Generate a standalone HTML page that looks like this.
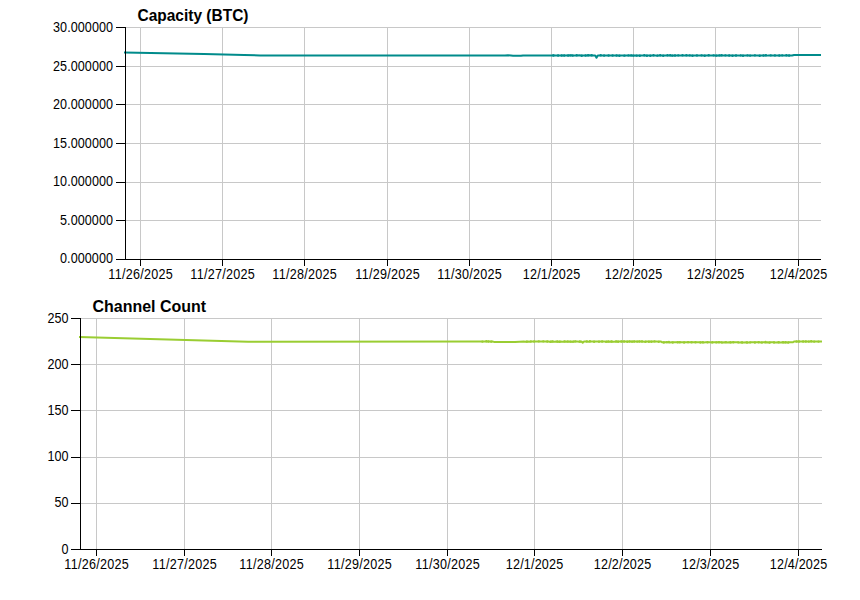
<!DOCTYPE html>
<html><head><meta charset="utf-8"><title>Chart</title>
<style>
html,body{margin:0;padding:0;background:#fff;}
body{width:860px;height:600px;overflow:hidden;position:relative;}
svg{position:absolute;left:0;top:0;display:block;}
.l{font-family:'Liberation Sans', Arial, sans-serif;font-size:14px;fill:#000;}
.t{font-family:'Liberation Sans', Arial, sans-serif;font-size:15.75px;font-weight:bold;fill:#000;}
</style></head><body>
<svg width="860" height="600" viewBox="0 0 860 600">
<rect x="0" y="0" width="860" height="600" fill="#fff"/>
<rect x="126" y="27" width="695" height="1" fill="#c8c8c8"/>
<rect x="126" y="66" width="695" height="1" fill="#c8c8c8"/>
<rect x="126" y="104" width="695" height="1" fill="#c8c8c8"/>
<rect x="126" y="143" width="695" height="1" fill="#c8c8c8"/>
<rect x="126" y="182" width="695" height="1" fill="#c8c8c8"/>
<rect x="126" y="220" width="695" height="1" fill="#c8c8c8"/>
<rect x="140" y="27" width="1" height="232" fill="#c8c8c8"/>
<rect x="222" y="27" width="1" height="232" fill="#c8c8c8"/>
<rect x="304" y="27" width="1" height="232" fill="#c8c8c8"/>
<rect x="387" y="27" width="1" height="232" fill="#c8c8c8"/>
<rect x="469" y="27" width="1" height="232" fill="#c8c8c8"/>
<rect x="551" y="27" width="1" height="232" fill="#c8c8c8"/>
<rect x="633" y="27" width="1" height="232" fill="#c8c8c8"/>
<rect x="715" y="27" width="1" height="232" fill="#c8c8c8"/>
<rect x="798" y="27" width="1" height="232" fill="#c8c8c8"/>
<polyline points="124,52.4 164,53.35 204,54.1 244,54.95 260,55.45 505,55.45 508,55.2 511,55.6 513,55.85 521,55.85 523,55.45 551,55.45 552,55.51 553.44,55.36 554.76,55.53 556.54,55.41 558.55,55.49 560.45,55.41 561.79,55.52 564.32,55.4 565.87,55.54 568.59,55.36 570.42,55.57 571.7,55.34 573.36,55.5 574.75,55.39 577.26,55.5 579.39,55.36 581.18,55.53 582.48,55.41 584.01,55.55 585.9,55.39 588.03,55.53 589.71,55.35 592.03,55.51 595.2,55.5 596.5,57.7 597.8,55.5 600,55.58 602.6,55.4 604.26,55.62 605.65,55.43 608.06,55.55 610.04,55.46 612.31,55.6 614.43,55.39 616.13,55.6 618.28,55.41 620.21,55.61 622.92,55.42 625.19,55.54 627.51,55.41 630.3,55.61 631.95,55.43 634.22,55.54 636.16,55.45 637.55,55.54 639.98,55.45 641.57,55.57 644.17,55.46 646.09,55.58 648.7,55.39 651.28,55.56 653.15,55.43 655.76,55.62 657.2,55.45 658.78,55.56 660.75,55.41 662.37,55.54 664.24,55.43 666.35,55.62 668.65,55.42 670.84,55.59 672.13,55.39 674.58,55.61 677.05,55.43 678.89,55.55 681.11,55.46 682.41,55.55 683.87,55.43 685.16,55.54 686.6,55.45 688.38,55.54 690.98,55.41 692.42,55.56 694.17,55.43 695.57,55.61 698.36,55.42 700.33,55.54 701.7,55.43 703.32,55.61 704.78,55.46 707.5,55.58 708.93,55.42 710.18,55.58 712.94,55.39 715.26,55.56 717.04,55.45 719.48,55.58 721.93,55.43 723.48,55.61 726.26,55.39 728.75,55.61 731.13,55.44 733.16,55.57 734.41,55.46 736.05,55.56 738.36,55.38 740.28,55.62 743.06,55.38 744.84,55.56 746.4,55.45 747.93,55.59 750.57,55.39 752.54,55.59 755.02,55.46 757.27,55.61 759.73,55.4 761.69,55.55 764.15,55.43 766.64,55.62 768.47,55.43 771.18,55.6 772.66,55.45 774.1,55.61 776.59,55.45 779.11,55.62 781.36,55.43 783.44,55.55 784.66,55.38 786.9,55.58 789.6,55.43 792,55.5 794,54.95 821,54.95" fill="none" stroke="#008b8b" stroke-width="2" stroke-linejoin="round"/>
<g fill="#008b8b"><circle cx="553.4" cy="55.48" r="1.2"/><circle cx="558.1" cy="55.43" r="1.2"/><circle cx="561.7" cy="55.49" r="1.2"/><circle cx="564.2" cy="55.46" r="1.2"/><circle cx="568.1" cy="55.6" r="1.2"/><circle cx="570.4" cy="55.35" r="1.2"/><circle cx="572.7" cy="55.6" r="1.2"/><circle cx="576.7" cy="55.22" r="1.2"/><circle cx="581.7" cy="55.68" r="1.2"/><circle cx="585.6" cy="55.51" r="1.2"/><circle cx="588.1" cy="55.21" r="1.2"/><circle cx="591.7" cy="55.23" r="1.2"/><circle cx="600.7" cy="55.27" r="1.2"/><circle cx="604.1" cy="55.47" r="1.2"/><circle cx="608.6" cy="55.51" r="1.2"/><circle cx="612.6" cy="55.5" r="1.2"/><circle cx="616.6" cy="55.48" r="1.2"/><circle cx="619.4" cy="55.75" r="1.2"/><circle cx="624.4" cy="55.67" r="1.2"/><circle cx="628.5" cy="55.41" r="1.2"/><circle cx="631.2" cy="55.39" r="1.2"/><circle cx="633.4" cy="55.63" r="1.2"/><circle cx="636.6" cy="55.67" r="1.2"/><circle cx="639.8" cy="55.73" r="1.2"/><circle cx="644.3" cy="55.25" r="1.2"/><circle cx="646.9" cy="55.71" r="1.2"/><circle cx="650.3" cy="55.74" r="1.2"/><circle cx="653.5" cy="55.29" r="1.2"/><circle cx="657.4" cy="55.64" r="1.2"/><circle cx="660.2" cy="55.29" r="1.2"/><circle cx="663.2" cy="55.73" r="1.2"/><circle cx="667.5" cy="55.31" r="1.2"/><circle cx="670.2" cy="55.3" r="1.2"/><circle cx="672.4" cy="55.65" r="1.2"/><circle cx="675.0" cy="55.53" r="1.2"/><circle cx="678.3" cy="55.35" r="1.2"/><circle cx="682.5" cy="55.32" r="1.2"/><circle cx="686.4" cy="55.31" r="1.2"/><circle cx="689.7" cy="55.36" r="1.2"/><circle cx="692.5" cy="55.74" r="1.2"/><circle cx="696.9" cy="55.4" r="1.2"/><circle cx="701.6" cy="55.36" r="1.2"/><circle cx="704.7" cy="55.68" r="1.2"/><circle cx="708.7" cy="55.3" r="1.2"/><circle cx="713.6" cy="55.36" r="1.2"/><circle cx="716.4" cy="55.64" r="1.2"/><circle cx="719.4" cy="55.4" r="1.2"/><circle cx="721.6" cy="55.3" r="1.2"/><circle cx="725.4" cy="55.37" r="1.2"/><circle cx="729.2" cy="55.44" r="1.2"/><circle cx="732.5" cy="55.73" r="1.2"/><circle cx="736.0" cy="55.54" r="1.2"/><circle cx="740.6" cy="55.34" r="1.2"/><circle cx="743.0" cy="55.7" r="1.2"/><circle cx="747.5" cy="55.37" r="1.2"/><circle cx="750.1" cy="55.62" r="1.2"/><circle cx="754.9" cy="55.35" r="1.2"/><circle cx="759.7" cy="55.69" r="1.2"/><circle cx="763.5" cy="55.46" r="1.2"/><circle cx="765.9" cy="55.27" r="1.2"/><circle cx="770.7" cy="55.37" r="1.2"/><circle cx="774.9" cy="55.38" r="1.2"/><circle cx="779.3" cy="55.55" r="1.2"/><circle cx="782.2" cy="55.34" r="1.2"/><circle cx="786.4" cy="55.28" r="1.2"/><circle cx="789.1" cy="55.53" r="1.2"/></g>
<rect x="125" y="27" width="1" height="233" fill="#000000"/>
<rect x="125" y="259" width="696" height="1" fill="#000000"/>
<rect x="116" y="27" width="9" height="1" fill="#000000"/>
<rect x="116" y="66" width="9" height="1" fill="#000000"/>
<rect x="116" y="104" width="9" height="1" fill="#000000"/>
<rect x="116" y="143" width="9" height="1" fill="#000000"/>
<rect x="116" y="182" width="9" height="1" fill="#000000"/>
<rect x="116" y="220" width="9" height="1" fill="#000000"/>
<rect x="116" y="259" width="9" height="1" fill="#000000"/>
<rect x="140" y="260" width="1" height="6" fill="#000000"/>
<rect x="222" y="260" width="1" height="6" fill="#000000"/>
<rect x="304" y="260" width="1" height="6" fill="#000000"/>
<rect x="387" y="260" width="1" height="6" fill="#000000"/>
<rect x="469" y="260" width="1" height="6" fill="#000000"/>
<rect x="551" y="260" width="1" height="6" fill="#000000"/>
<rect x="633" y="260" width="1" height="6" fill="#000000"/>
<rect x="715" y="260" width="1" height="6" fill="#000000"/>
<rect x="798" y="260" width="1" height="6" fill="#000000"/>
<text transform="translate(113,32) scale(0.9,1)" text-anchor="end" class="l" textLength="66.67" lengthAdjust="spacing">30.000000</text>
<text transform="translate(113,71) scale(0.9,1)" text-anchor="end" class="l" textLength="66.67" lengthAdjust="spacing">25.000000</text>
<text transform="translate(113,109) scale(0.9,1)" text-anchor="end" class="l" textLength="66.67" lengthAdjust="spacing">20.000000</text>
<text transform="translate(113,148) scale(0.9,1)" text-anchor="end" class="l" textLength="66.67" lengthAdjust="spacing">15.000000</text>
<text transform="translate(113,186) scale(0.9,1)" text-anchor="end" class="l" textLength="66.67" lengthAdjust="spacing">10.000000</text>
<text transform="translate(113,225) scale(0.9,1)" text-anchor="end" class="l" textLength="58.89" lengthAdjust="spacing">5.000000</text>
<text transform="translate(113,263) scale(0.9,1)" text-anchor="end" class="l" textLength="58.89" lengthAdjust="spacing">0.000000</text>
<text transform="translate(140.5,279) scale(0.9,1)" text-anchor="middle" class="l" textLength="71.56" lengthAdjust="spacing">11/26/2025</text>
<text transform="translate(222.5,279) scale(0.9,1)" text-anchor="middle" class="l" textLength="71.56" lengthAdjust="spacing">11/27/2025</text>
<text transform="translate(304.5,279) scale(0.9,1)" text-anchor="middle" class="l" textLength="71.56" lengthAdjust="spacing">11/28/2025</text>
<text transform="translate(387.5,279) scale(0.9,1)" text-anchor="middle" class="l" textLength="71.56" lengthAdjust="spacing">11/29/2025</text>
<text transform="translate(469.5,279) scale(0.9,1)" text-anchor="middle" class="l" textLength="71.56" lengthAdjust="spacing">11/30/2025</text>
<text transform="translate(551.5,279) scale(0.9,1)" text-anchor="middle" class="l" textLength="63.78" lengthAdjust="spacing">12/1/2025</text>
<text transform="translate(633.5,279) scale(0.9,1)" text-anchor="middle" class="l" textLength="63.78" lengthAdjust="spacing">12/2/2025</text>
<text transform="translate(715.5,279) scale(0.9,1)" text-anchor="middle" class="l" textLength="63.78" lengthAdjust="spacing">12/3/2025</text>
<text transform="translate(798.5,279) scale(0.9,1)" text-anchor="middle" class="l" textLength="63.78" lengthAdjust="spacing">12/4/2025</text>
<text x="137.5" y="21" class="t" textLength="111" lengthAdjust="spacingAndGlyphs">Capacity (BTC)</text>
<rect x="81" y="318" width="741" height="1" fill="#c8c8c8"/>
<rect x="81" y="364" width="741" height="1" fill="#c8c8c8"/>
<rect x="81" y="410" width="741" height="1" fill="#c8c8c8"/>
<rect x="81" y="457" width="741" height="1" fill="#c8c8c8"/>
<rect x="81" y="503" width="741" height="1" fill="#c8c8c8"/>
<rect x="96" y="318" width="1" height="231" fill="#c8c8c8"/>
<rect x="184" y="318" width="1" height="231" fill="#c8c8c8"/>
<rect x="271" y="318" width="1" height="231" fill="#c8c8c8"/>
<rect x="359" y="318" width="1" height="231" fill="#c8c8c8"/>
<rect x="447" y="318" width="1" height="231" fill="#c8c8c8"/>
<rect x="534" y="318" width="1" height="231" fill="#c8c8c8"/>
<rect x="622" y="318" width="1" height="231" fill="#c8c8c8"/>
<rect x="710" y="318" width="1" height="231" fill="#c8c8c8"/>
<rect x="798" y="318" width="1" height="231" fill="#c8c8c8"/>
<polyline points="79,336.95 248,341.7 480,341.6 481,341.59 482.54,341.45 484.21,341.55 486.34,341.45 488.22,341.54 490.87,341.44 493,341.6 494.5,342.1 505,341.9 515,341.95 524,341.6 525,341.64 527.65,341.48 530.32,341.63 532.37,341.47 533.6,341.62 535.09,341.51 537.57,341.6 539.53,341.45 541.62,341.61 543.65,341.47 546.1,341.6 548.2,341.49 549.84,341.65 551.85,341.47 554.27,341.66 556.18,341.46 558.19,341.63 560.49,341.47 562.55,341.63 565.25,341.45 567.86,341.67 569.47,341.47 572.18,341.66 573.6,341.5 575.51,341.59 577.09,341.51 579.36,341.65 581.5,341.55 582.7,342.7 584,341.55 585,341.6 587.35,341.46 588.77,341.66 591.52,341.49 594.25,341.62 596.23,341.43 598.76,341.6 600.65,341.47 602.39,341.6 604.1,341.45 605.33,341.63 607.24,341.51 608.97,341.64 610.99,341.51 613.76,341.65 616.52,341.5 618.14,341.59 620.59,341.49 622.0,341.62 624.65,341.44 626.27,341.6 628.94,341.46 631.26,341.59 632.55,341.45 634.43,341.59 637.13,341.46 639.62,341.59 642.19,341.51 644.77,341.63 646.51,341.47 649.19,341.61 650.6,341.47 652.18,341.6 653.64,341.51 655.16,341.61 656.85,341.45 658.51,341.63 660.0,341.48 661,341.6 662,342.3 663,342.36 664.22,342.2 666.31,342.35 668.27,342.18 669.64,342.41 671.53,342.22 674.06,342.37 676.07,342.2 678.85,342.37 681.38,342.2 683.59,342.37 685.35,342.26 686.76,342.34 689.14,342.24 690.61,342.34 693.15,342.19 695.42,342.36 697.01,342.24 698.95,342.35 700.86,342.24 703.6,342.42 705.67,342.24 708.42,342.36 710.19,342.26 712.0,342.38 714.0,342.25 716.01,342.34 717.63,342.26 719.47,342.34 720.71,342.24 722.28,342.39 724.33,342.2 726.58,342.4 729.19,342.23 730.91,342.42 732.35,342.2 734.58,342.34 737.11,342.19 739.32,342.4 741.82,342.25 743.86,342.38 746.39,342.19 748.91,342.39 751.54,342.2 753.85,342.36 755.1,342.25 756.88,342.35 759.42,342.22 761.62,342.39 763.91,342.22 765.11,342.41 767.51,342.22 769.57,342.39 770.87,342.2 772.48,342.34 774.1,342.2 775.63,342.4 778.39,342.22 780.2,342.38 782.5,342.2 784.69,342.39 786.01,342.25 787.62,342.4 789.3,342.21 790.52,342.34 793,342.2 794,341.5 795,341.58 797.31,341.42 798.97,341.57 800.92,341.43 802.31,341.6 803.82,341.4 806.52,341.53 808.46,341.41 811.21,341.56 812.84,341.45 815.55,341.55 817.68,341.46 819.72,341.6 822,341.5" fill="none" stroke="#9acd32" stroke-width="2" stroke-linejoin="round"/>
<g fill="#9acd32"><circle cx="482.4" cy="341.58" r="1.2"/><circle cx="486.4" cy="341.32" r="1.2"/><circle cx="488.5" cy="341.44" r="1.2"/><circle cx="491.3" cy="341.66" r="1.2"/><circle cx="526.8" cy="341.58" r="1.2"/><circle cx="530.8" cy="341.37" r="1.2"/><circle cx="534.1" cy="341.38" r="1.2"/><circle cx="538.8" cy="341.33" r="1.2"/><circle cx="543.3" cy="341.34" r="1.2"/><circle cx="547.3" cy="341.47" r="1.2"/><circle cx="550.6" cy="341.72" r="1.2"/><circle cx="552.6" cy="341.33" r="1.2"/><circle cx="557.4" cy="341.55" r="1.2"/><circle cx="559.6" cy="341.79" r="1.2"/><circle cx="564.5" cy="341.36" r="1.2"/><circle cx="567.7" cy="341.37" r="1.2"/><circle cx="570.7" cy="341.61" r="1.2"/><circle cx="573.2" cy="341.65" r="1.2"/><circle cx="575.3" cy="341.39" r="1.2"/><circle cx="579.8" cy="341.5" r="1.2"/><circle cx="586.8" cy="341.54" r="1.2"/><circle cx="589.9" cy="341.32" r="1.2"/><circle cx="594.1" cy="341.78" r="1.2"/><circle cx="599.0" cy="341.63" r="1.2"/><circle cx="602.1" cy="341.48" r="1.2"/><circle cx="606.2" cy="341.64" r="1.2"/><circle cx="608.5" cy="341.42" r="1.2"/><circle cx="611.6" cy="341.56" r="1.2"/><circle cx="616.1" cy="341.55" r="1.2"/><circle cx="618.1" cy="341.71" r="1.2"/><circle cx="621.4" cy="341.56" r="1.2"/><circle cx="624.1" cy="341.51" r="1.2"/><circle cx="627.3" cy="341.69" r="1.2"/><circle cx="629.6" cy="341.57" r="1.2"/><circle cx="632.1" cy="341.65" r="1.2"/><circle cx="634.2" cy="341.44" r="1.2"/><circle cx="637.2" cy="341.62" r="1.2"/><circle cx="639.4" cy="341.53" r="1.2"/><circle cx="642.0" cy="341.44" r="1.2"/><circle cx="645.5" cy="341.78" r="1.2"/><circle cx="648.9" cy="341.78" r="1.2"/><circle cx="651.4" cy="341.76" r="1.2"/><circle cx="654.5" cy="341.39" r="1.2"/><circle cx="658.7" cy="341.76" r="1.2"/><circle cx="663.8" cy="342.44" r="1.2"/><circle cx="666.8" cy="342.17" r="1.2"/><circle cx="668.9" cy="342.07" r="1.2"/><circle cx="672.7" cy="342.54" r="1.2"/><circle cx="677.7" cy="342.3" r="1.2"/><circle cx="679.8" cy="342.21" r="1.2"/><circle cx="684.1" cy="342.47" r="1.2"/><circle cx="688.1" cy="342.16" r="1.2"/><circle cx="691.6" cy="342.29" r="1.2"/><circle cx="695.5" cy="342.18" r="1.2"/><circle cx="700.4" cy="342.5" r="1.2"/><circle cx="702.9" cy="342.2" r="1.2"/><circle cx="707.5" cy="342.19" r="1.2"/><circle cx="712.3" cy="342.31" r="1.2"/><circle cx="716.4" cy="342.4" r="1.2"/><circle cx="719.0" cy="342.19" r="1.2"/><circle cx="721.8" cy="342.39" r="1.2"/><circle cx="725.9" cy="342.12" r="1.2"/><circle cx="730.5" cy="342.26" r="1.2"/><circle cx="733.3" cy="342.27" r="1.2"/><circle cx="738.2" cy="342.33" r="1.2"/><circle cx="742.1" cy="342.51" r="1.2"/><circle cx="747.0" cy="342.43" r="1.2"/><circle cx="750.2" cy="342.34" r="1.2"/><circle cx="754.9" cy="342.44" r="1.2"/><circle cx="758.7" cy="342.22" r="1.2"/><circle cx="761.8" cy="342.42" r="1.2"/><circle cx="765.5" cy="342.06" r="1.2"/><circle cx="769.6" cy="342.5" r="1.2"/><circle cx="774.0" cy="342.5" r="1.2"/><circle cx="778.7" cy="342.32" r="1.2"/><circle cx="783.1" cy="342.24" r="1.2"/><circle cx="785.4" cy="342.23" r="1.2"/><circle cx="788.3" cy="342.52" r="1.2"/><circle cx="796.6" cy="341.56" r="1.2"/><circle cx="799.0" cy="341.52" r="1.2"/><circle cx="803.1" cy="341.45" r="1.2"/><circle cx="805.8" cy="341.45" r="1.2"/><circle cx="808.8" cy="341.59" r="1.2"/><circle cx="811.2" cy="341.3" r="1.2"/><circle cx="814.2" cy="341.6" r="1.2"/><circle cx="818.5" cy="341.58" r="1.2"/></g>
<rect x="80" y="318" width="1" height="232" fill="#000000"/>
<rect x="80" y="549" width="742" height="1" fill="#000000"/>
<rect x="71" y="318" width="9" height="1" fill="#000000"/>
<rect x="71" y="364" width="9" height="1" fill="#000000"/>
<rect x="71" y="410" width="9" height="1" fill="#000000"/>
<rect x="71" y="457" width="9" height="1" fill="#000000"/>
<rect x="71" y="503" width="9" height="1" fill="#000000"/>
<rect x="71" y="549" width="9" height="1" fill="#000000"/>
<rect x="96" y="550" width="1" height="6" fill="#000000"/>
<rect x="184" y="550" width="1" height="6" fill="#000000"/>
<rect x="271" y="550" width="1" height="6" fill="#000000"/>
<rect x="359" y="550" width="1" height="6" fill="#000000"/>
<rect x="447" y="550" width="1" height="6" fill="#000000"/>
<rect x="534" y="550" width="1" height="6" fill="#000000"/>
<rect x="622" y="550" width="1" height="6" fill="#000000"/>
<rect x="710" y="550" width="1" height="6" fill="#000000"/>
<rect x="798" y="550" width="1" height="6" fill="#000000"/>
<text transform="translate(68.5,323) scale(0.9,1)" text-anchor="end" class="l" textLength="23.33" lengthAdjust="spacing">250</text>
<text transform="translate(68.5,369) scale(0.9,1)" text-anchor="end" class="l" textLength="23.33" lengthAdjust="spacing">200</text>
<text transform="translate(68.5,415) scale(0.9,1)" text-anchor="end" class="l" textLength="23.33" lengthAdjust="spacing">150</text>
<text transform="translate(68.5,461) scale(0.9,1)" text-anchor="end" class="l" textLength="23.33" lengthAdjust="spacing">100</text>
<text transform="translate(68.5,507) scale(0.9,1)" text-anchor="end" class="l" textLength="15.56" lengthAdjust="spacing">50</text>
<text transform="translate(68.5,554) scale(0.9,1)" text-anchor="end" class="l" textLength="7.78" lengthAdjust="spacing">0</text>
<text transform="translate(96.5,569) scale(0.9,1)" text-anchor="middle" class="l" textLength="71.56" lengthAdjust="spacing">11/26/2025</text>
<text transform="translate(184.5,569) scale(0.9,1)" text-anchor="middle" class="l" textLength="71.56" lengthAdjust="spacing">11/27/2025</text>
<text transform="translate(271.5,569) scale(0.9,1)" text-anchor="middle" class="l" textLength="71.56" lengthAdjust="spacing">11/28/2025</text>
<text transform="translate(359.5,569) scale(0.9,1)" text-anchor="middle" class="l" textLength="71.56" lengthAdjust="spacing">11/29/2025</text>
<text transform="translate(447.5,569) scale(0.9,1)" text-anchor="middle" class="l" textLength="71.56" lengthAdjust="spacing">11/30/2025</text>
<text transform="translate(534.5,569) scale(0.9,1)" text-anchor="middle" class="l" textLength="63.78" lengthAdjust="spacing">12/1/2025</text>
<text transform="translate(622.5,569) scale(0.9,1)" text-anchor="middle" class="l" textLength="63.78" lengthAdjust="spacing">12/2/2025</text>
<text transform="translate(710.5,569) scale(0.9,1)" text-anchor="middle" class="l" textLength="63.78" lengthAdjust="spacing">12/3/2025</text>
<text transform="translate(798.5,569) scale(0.9,1)" text-anchor="middle" class="l" textLength="63.78" lengthAdjust="spacing">12/4/2025</text>
<text x="92.5" y="312" class="t" textLength="113.5" lengthAdjust="spacingAndGlyphs">Channel Count</text>
</svg>
</body></html>
